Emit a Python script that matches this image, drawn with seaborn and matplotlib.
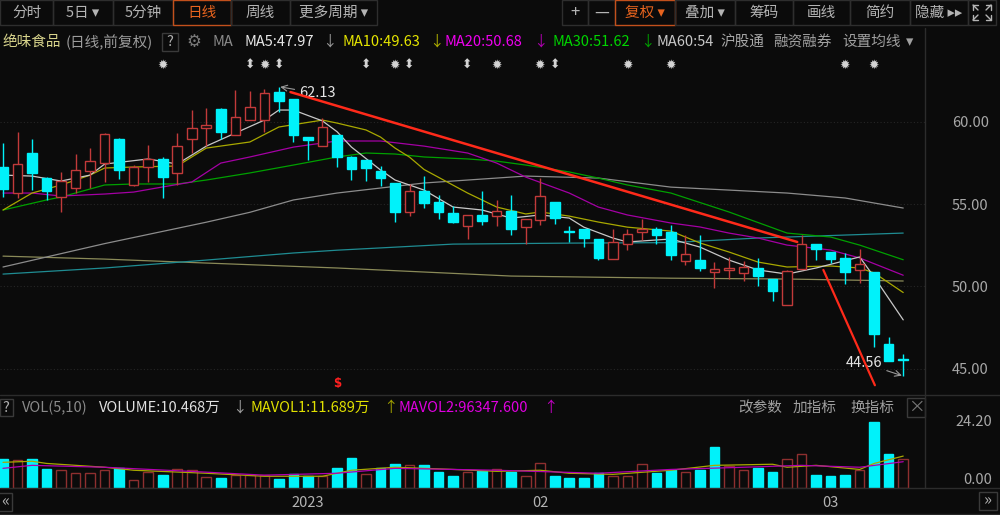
import matplotlib
matplotlib.use("Agg")
import matplotlib.pyplot as plt
import matplotlib.patches as mpatches
from matplotlib.lines import Line2D
import numpy as np
import seaborn as sns

# ---- daily candles (index 0 = 2022-12-02 ... 62 = 2023-03-08) ----
opens = [57.26, 55.67, 58.11, 56.59, 55.43, 55.98, 57.01, 57.50, 58.96, 56.16,
         57.26, 57.74, 56.89, 58.96, 59.63, 60.79, 59.20, 60.10, 60.10, 61.80,
         61.37, 59.07, 58.50, 59.20, 57.86, 57.68, 57.00, 56.28, 54.50, 55.80,
         55.13, 54.45, 53.66, 54.33, 54.27, 54.57, 53.60, 54.03, 55.10, 53.35,
         53.50, 52.85, 51.65, 52.60, 53.30, 53.48, 53.30, 51.55, 51.60, 50.88,
         51.00, 50.80, 51.13, 50.45, 48.85, 51.05, 52.60, 52.10, 51.70, 51.00,
         50.85, 46.50, 45.60]
highs = [58.72, 59.39, 58.96, 56.65, 56.95, 58.05, 58.41, 59.33, 59.00, 57.38,
         58.60, 57.87, 59.33, 60.73, 60.85, 60.85, 61.95, 61.85, 62.00, 62.13,
         61.40, 59.10, 60.20, 59.20, 57.90, 57.70, 57.30, 56.30, 56.20, 56.70,
         55.55, 54.87, 54.33, 55.80, 55.25, 55.55, 54.10, 56.60, 55.10, 53.66,
         53.50, 52.85, 53.50, 53.50, 54.10, 53.60, 53.70, 53.10, 53.10, 51.50,
         51.80, 51.55, 51.70, 50.45, 51.00, 53.10, 52.60, 52.10, 52.05, 52.30,
         50.85, 46.90, 45.90]
lows = [55.43, 55.37, 55.85, 55.24, 54.50, 55.67, 55.98, 56.34, 56.52, 56.10,
        56.34, 55.37, 56.16, 58.11, 58.54, 58.96, 59.20, 60.10, 59.37, 60.60,
        58.77, 57.70, 58.50, 57.25, 56.46, 56.40, 56.10, 53.90, 54.30, 54.76,
        54.10, 53.85, 52.87, 53.72, 53.66, 53.10, 52.60, 53.70, 53.80, 52.70,
        52.40, 51.60, 51.65, 52.20, 52.80, 52.60, 51.60, 51.30, 50.95, 49.90,
        50.45, 50.30, 50.00, 49.10, 48.85, 51.05, 51.60, 51.40, 50.15, 50.20,
        46.30, 45.50, 44.56]
closes = [55.91, 57.44, 56.89, 55.79, 56.40, 57.07, 57.62, 59.27, 57.07, 57.26,
          57.74, 56.65, 58.54, 59.63, 59.82, 59.39, 60.30, 60.90, 61.74, 61.25,
          59.20, 58.90, 59.67, 57.86, 57.13, 57.19, 56.58, 54.50, 55.80, 55.07,
          54.50, 53.90, 54.33, 53.97, 54.57, 53.48, 54.10, 55.50, 54.15, 53.30,
          52.95, 51.70, 52.70, 53.20, 53.48, 53.10, 51.90, 51.95, 51.10, 51.07,
          51.13, 51.20, 50.65, 49.70, 50.95, 52.60, 52.27, 51.65, 50.90, 51.35,
          47.10, 45.50, 45.55]

# volume in 万手, colour flag as drawn (R red hollow / C cyan)
volume = [10.7, 10.1, 10.5, 6.8, 6.5, 5.6, 5.5, 6.5, 7.3, 3.1,
          5.9, 4.9, 6.8, 6.7, 4.0, 3.8, 4.9, 4.9, 4.9, 3.2,
          5.3, 4.3, 4.3, 7.4, 11.0, 5.3, 7.4, 8.7, 8.5, 8.3,
          5.9, 4.4, 5.9, 6.1, 7.1, 5.9, 4.3, 9.3, 4.3, 3.7,
          3.7, 5.4, 4.4, 4.3, 8.7, 5.5, 6.7, 5.9, 6.5, 15.0,
          7.9, 6.5, 7.3, 5.9, 10.7, 12.6, 4.9, 4.3, 4.9, 6.7,
          24.2, 12.3, 10.47]
vol_flag = "CRCCRRRRCRRCRRRCRRRCCCRCCRCCRCCCRCRCRRCCCCRRRCCRCCRRCCRRCCCRCCR"

# moving averages
ma5_x = [0, 2, 4, 6, 7, 10, 12, 14, 16, 18, 19, 20, 22, 23, 24, 26, 27, 29, 31, 33,
         35, 37, 39, 40, 42, 43, 46, 48, 50, 52, 54, 56, 59, 60, 62]
ma5 = [56.76, 56.70, 56.40, 56.76, 57.43, 57.74, 57.43, 58.52, 59.31, 60.10,
       60.71, 60.71, 60.05, 59.40, 58.46, 57.07, 56.46, 55.85, 54.82, 54.64,
       54.15, 54.34, 54.15, 53.60, 52.94, 52.70, 52.88, 52.39, 51.60, 51.00,
       50.75, 51.12, 51.79, 50.57, 47.97]
ma10_x = [0, 2, 4, 6, 7, 9, 12, 13, 14, 17, 19, 22, 23, 25, 26, 27, 28, 29, 32, 34,
          36, 37, 39, 41, 43, 46, 48, 50, 52, 54, 57, 59, 60, 62]
ma10 = [54.64, 55.67, 56.16, 56.76, 57.19, 57.25, 57.31, 57.86, 58.40, 58.77,
        59.68, 60.10, 59.92, 59.50, 59.07, 58.40, 57.85, 57.10, 55.67, 54.82,
        54.40, 54.52, 54.27, 53.91, 53.60, 53.36, 52.64, 52.09, 51.48, 51.18,
        51.24, 51.12, 50.82, 49.63]
ma20_x = [0, 2, 4, 7, 9, 11, 13, 15, 17, 20, 23, 26, 29, 32, 34, 36, 39, 41, 43, 46,
          48, 50, 52, 54, 57, 59, 62]
ma20 = [55.67, 55.67, 55.49, 55.61, 55.73, 56.04, 56.34, 57.49, 57.86, 58.46,
        58.83, 58.83, 58.52, 58.10, 57.49, 56.64, 55.67, 54.82, 54.34, 53.85,
        53.61, 53.24, 52.94, 52.51, 52.21, 51.73, 50.68]
ma30_x = [0, 3, 4, 7, 9, 12, 14, 17, 20, 23, 25, 27, 29, 32, 34, 36, 39, 41, 43, 46,
          50, 54, 57, 59, 62]
ma30 = [54.64, 55.25, 55.43, 56.16, 56.22, 56.22, 56.46, 56.89, 57.37, 57.86,
        58.10, 58.04, 57.86, 57.74, 57.61, 57.37, 56.95, 56.58, 56.16, 55.67,
        54.52, 53.24, 53.00, 52.51, 51.62]
ma60_x = [0, 7, 14, 17, 20, 23, 29, 36, 41, 46, 50, 54, 58, 62]
ma60 = [51.18, 52.60, 53.90, 54.50, 55.25, 55.67, 56.28, 56.70, 56.58, 56.03,
        55.85, 55.67, 55.37, 54.76]
ma120_x = [0, 7, 14, 20, 23, 31, 39, 46, 52, 62]
ma120 = [50.75, 51.12, 51.60, 52.03, 52.20, 52.57, 52.63, 52.66, 52.94, 53.24]
ma250_x = [0, 7, 14, 23, 35, 46, 54, 62]
ma250 = [51.84, 51.66, 51.42, 51.12, 50.63, 50.50, 50.45, 50.33]

mavol1_x = [0, 2, 3, 7, 9, 14, 18, 22, 24, 27, 31, 34, 37, 39, 42, 46, 49, 53, 54, 56,
            59, 60, 62]
mavol1 = [9.4, 9.8, 9.0, 7.6, 6.5, 5.4, 4.3, 4.3, 6.5, 7.6, 6.8, 6.1, 6.5, 5.4, 5.0,
          6.5, 8.3, 8.7, 7.6, 8.3, 6.8, 9.0, 11.69]
mavol2_x = [0, 2, 7, 14, 18, 23, 27, 34, 41, 46, 51, 55, 59, 62]
mavol2 = [7.2, 8.3, 7.6, 5.8, 4.7, 5.4, 7.2, 6.5, 5.4, 6.8, 7.6, 8.3, 7.6, 9.63]

# hand-drawn red trend lines (index, price)
trend1_x, trend1_y = [19.8, 54.7], [61.80, 52.70]
trend2_x, trend2_y = [56.5, 60.05], [51.00, 44.00]

star_idx = [11, 18, 27, 34, 37, 43, 46, 58, 60]
arrow_idx = [17, 19, 25, 28, 32, 38]
month_pos = [21, 37, 57]
month_lbl = ["2023", "02", "03"]
price_ticks = [45, 50, 55, 60]

BG = "#0b0b0b"
RED = "#c23a3a"
VRED = "#8e2f2f"
CYAN = "#00f2fa"
GRID = "#262626"
TXT = "#a8a8a8"

sns.set_theme(style="dark", rc={"axes.facecolor": BG, "figure.facecolor": BG})
plt.rcParams["font.family"] = ["Noto Sans CJK SC", "DejaVu Sans"]

W, H = 1000, 515
fig = plt.figure(figsize=(10, 5.15), dpi=100)


def fx(x):
    return x / W


def fy(y):
    return 1 - y / H


ax = fig.add_axes([0, fy(393), fx(925), (393 - 57) / H])
axv = fig.add_axes([0, fy(488), fx(925), (488 - 396) / H])

o = np.array(opens); h = np.array(highs); l = np.array(lows); c = np.array(closes)
idx = np.arange(len(c))
up = c > o
top = np.maximum(o, c)
bot = np.minimum(o, c)
bh = np.maximum(top - bot, 0.05)

# grid
for p in price_ticks:
    ax.axhline(p, color=GRID, lw=0.8, ls=(0, (1, 2)), zorder=0)

# long MAs first
for xs, ys, col in [(ma250_x, ma250, "#8a8a58"), (ma120_x, ma120, "#1f8c92"),
                    (ma60_x, ma60, "#8c8c8c"), (ma30_x, ma30, "#00a000"),
                    (ma20_x, ma20, "#a400a4"), (ma10_x, ma10, "#a8a800"),
                    (ma5_x, ma5, "#c8c8c8")]:
    sns.lineplot(x=xs, y=ys, ax=ax, color=col, lw=0.9, legend=False, zorder=2)

# candles
wcol = np.where(up, RED, CYAN)
ax.vlines(idx, top, h, colors=wcol, lw=1, zorder=3)
ax.vlines(idx, l, bot, colors=wcol, lw=1, zorder=3)
ax.bar(idx[up], bh[up], bottom=bot[up], width=0.66, facecolor=BG, edgecolor=RED,
       lw=1, zorder=4)
ax.bar(idx[~up], bh[~up], bottom=bot[~up], width=0.66, facecolor=CYAN,
       edgecolor=CYAN, lw=1, zorder=4)

# trend lines
ax.plot(trend1_x, trend1_y, color="#ff2a1a", lw=1.8, zorder=5)
ax.plot(trend2_x, trend2_y, color="#ff2a1a", lw=1.6, zorder=5)

# high / low notes
ax.annotate("62.13", xy=(19, highs[19]), xytext=(20.4, 61.72), color="#e6e6e6",
            fontsize=10.5, va="center", ha="left",
            arrowprops=dict(arrowstyle="->", color="#9a9a9a", lw=0.8,
                            shrinkA=1, shrinkB=1))
ax.annotate("44.56", xy=(62, lows[62]), xytext=(60.55, 45.34), color="#e6e6e6",
            fontsize=10.5, va="center", ha="right",
            arrowprops=dict(arrowstyle="->", color="#9a9a9a", lw=0.8,
                            shrinkA=1, shrinkB=1))

tr = ax.get_xaxis_transform()
for i in star_idx:
    ax.text(i, 0.975, "✹", transform=tr, ha="center", va="center", fontsize=9,
            color="#d4d4d4", family=["DejaVu Sans"])
for i in arrow_idx:
    ax.text(i, 0.975, "⬍", transform=tr, ha="center", va="center", fontsize=9,
            color="#d4d4d4", family=["DejaVu Sans", "Noto Sans CJK SC"])
ax.text(23, 0.028, "$", transform=tr, ha="center", va="center", fontsize=8.5,
        color="#ff2020", fontweight="bold", family=["DejaVu Sans"])

ax.set_xlim(-0.207, 63.5)
ax.set_ylim(43.53, 63.93)
ax.grid(False)
ax.set_xticks([])
ax.yaxis.tick_right()
ax.set_yticks(price_ticks)
ax.set_yticklabels([f"{p:.2f}" for p in price_ticks])
ax.tick_params(axis="y", length=0, pad=19.4, labelcolor=TXT, labelsize=10.5)
for s in ax.spines.values():
    s.set_visible(False)

# volume
vup = np.array([f == "R" for f in vol_flag])
vv = np.array(volume)
axv.bar(idx[vup], vv[vup], width=0.66, facecolor=BG, edgecolor=VRED, lw=1, zorder=3)
axv.bar(idx[~vup], vv[~vup], width=0.66, facecolor=CYAN, edgecolor=CYAN, lw=1, zorder=3)
sns.lineplot(x=mavol1_x, y=mavol1, ax=axv, color="#a8a800", lw=0.9, legend=False, zorder=4)
sns.lineplot(x=mavol2_x, y=mavol2, ax=axv, color="#b000b0", lw=0.9, legend=False, zorder=4)
axv.set_xlim(-0.207, 63.5)
axv.set_ylim(0, 33.7)
axv.grid(False)
axv.set_yticks([])
axv.set_xticks(month_pos)
axv.set_xticklabels(month_lbl)
axv.tick_params(axis="x", length=0, pad=6, labelcolor="#b4b4b4", labelsize=10.5)
for s in axv.spines.values():
    s.set_visible(False)
ytr = axv.get_yaxis_transform()
axv.text(992 / 925, 24.2, "24.20", transform=ytr, ha="right", va="center",
         fontsize=10.5, color=TXT, clip_on=False)
axv.text(992 / 925, 0.2, "0.00", transform=ytr, ha="right", va="bottom",
         fontsize=10.5, color=TXT, clip_on=False)


# ---- frame lines ----
def hline(y, x0=0, x1=1000, col="#2c2c2c", lw=1):
    fig.add_artist(Line2D([fx(x0), fx(x1)], [fy(y), fy(y)], color=col, lw=lw))


def vline(x, y0, y1, col="#2c2c2c", lw=1):
    fig.add_artist(Line2D([fx(x), fx(x)], [fy(y0), fy(y1)], color=col, lw=lw))


def box(x0, y0, x1, y1, col="#2e2e2e", lw=1):
    fig.add_artist(mpatches.Rectangle((fx(x0), fy(y1)), fx(x1 - x0), (y1 - y0) / H,
                                      fill=False, edgecolor=col, lw=lw))


def label(x, y, s, col, ha="left", size=10.5, **kw):
    fig.text(fx(x), fy(y), s, color=col, ha=ha, va="center", fontsize=size, **kw)


vline(925, 28, 488)
hline(395)
hline(488)
hline(514, col="#262626")

# toolbar
cells_l = [(0, 53, "分时"), (53, 113, "5日 ▾"), (113, 173, "5分钟"), (173, 231, "日线"),
           (231, 290, "周线"), (290, 377, "更多周期 ▾")]
cells_r = [(562, 588, "+"), (588, 615, "—"), (615, 675, "复权 ▾"), (675, 735, "叠加 ▾"),
           (735, 793, "筹码"), (793, 850, "画线"), (850, 910, "简约"), (910, 968, "隐藏 ▸▸"),
           (968, 996, "")]
for x0, x1, s in cells_l + cells_r:
    hot = s.startswith("日线") or s.startswith("复权")
    box(x0, 0, x1, 25, col="#c2501c" if hot else "#2e2e2e")
    if s:
        label((x0 + x1) / 2, 12.5, s, "#e8641e" if hot else "#b4b4b4", ha="center",
              size=12 if s in "+—" else 10.5)
for (ax0, ay0, dx, dy) in [(973, 5, 1, 1), (991, 5, -1, 1), (973, 20, 1, -1), (991, 20, -1, -1)]:
    fig.add_artist(Line2D([fx(ax0), fx(ax0 + 5 * dx)], [fy(ay0), fy(ay0)], color="#b4b4b4", lw=1))
    fig.add_artist(Line2D([fx(ax0), fx(ax0)], [fy(ay0), fy(ay0 + 5 * dy)], color="#b4b4b4", lw=1))
    fig.add_artist(Line2D([fx(ax0), fx(ax0 + 5 * dx)], [fy(ay0), fy(ay0 + 5 * dy)], color="#b4b4b4", lw=1))

# price header
label(2, 42, "绝味食品", "#d8d48c")
label(66, 42, "(日线,前复权)", "#9c9c9c")
box(162, 33, 178, 51, col="#3a3a3a")
label(170, 42, "?", "#b0b0b0", ha="center")
label(194, 42, "⚙", "#7a7a7a", ha="center", size=12, family=["DejaVu Sans"])
label(213, 42, "MA", "#8a8a8a")
label(245, 42, "MA5:47.97", "#e8e8e8")
label(322, 42, "↓", "#9a9a9a")
label(342, 42, "MA10:49.63", "#e6e600")
label(429, 42, "↓", "#b0b000")
label(445, 42, "MA20:50.68", "#ee00ee")
label(533, 42, "↓", "#b000b0")
label(553, 42, "MA30:51.62", "#00d400")
label(640, 42, "↓", "#00a000")
label(657, 42, "MA60:54", "#c8c8c8")
label(720, 42, "沪股通", "#a8a8a8")
label(773, 42, "融资融券", "#a0a0a0")
label(842, 42, "设置均线", "#a0a0a0")
label(906, 42, "▾", "#a0a0a0")

# volume header
box(0, 399, 13, 416, col="#3a3a3a")
label(6, 407.5, "?", "#b0b0b0", ha="center")
label(22, 408, "VOL(5,10)", "#8a8a8a")
label(99, 408, "VOLUME:10.468万", "#e0e0e0")
label(232, 408, "↓", "#a0a0a0")
label(250, 408, "MAVOL1:11.689万", "#e0e000")
label(383, 408, "↑", "#a0a000")
label(398, 408, "MAVOL2:96347.600", "#e000e0")
label(543, 408, "↑", "#c000c0")
label(738, 408, "改参数", "#a0a0a0")
label(793, 408, "加指标", "#a0a0a0")
label(850, 408, "换指标", "#a0a0a0")
box(907, 398, 925, 417, col="#3a3a3a")
label(916, 407.5, "×", "#777777", ha="center", size=12)

# scroll buttons
box(-2, 493, 12, 511, col="#3a3a3a")
label(5, 502, "«", "#b0b0b0", ha="center", size=12)
box(979, 492, 997, 510, col="#3a3a3a")
label(988, 501, "»", "#b0b0b0", ha="center", size=12)

fig.savefig("out.png", dpi=100, facecolor=BG)
